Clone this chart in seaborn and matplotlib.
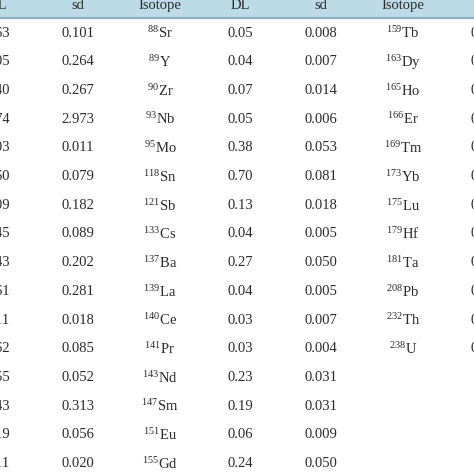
import matplotlib
matplotlib.use("Agg")
import matplotlib.pyplot as plt
import seaborn as sns

# Table data (left block is cropped in the reference)
dl_a = ["0.63", "0.05", "0.40", "5.74", "0.03", "0.60", "0.09", "0.45",
        "0.43", "0.61", "0.11", "0.62", "0.55", "0.43", "0.19", "0.11"]
sd_a = ["0.101", "0.264", "0.267", "2.973", "0.011", "0.079", "0.182", "0.089",
        "0.202", "0.281", "0.018", "0.085", "0.052", "0.313", "0.056", "0.020"]
iso_b = [("88", "Sr"), ("89", "Y"), ("90", "Zr"), ("93", "Nb"), ("95", "Mo"), ("118", "Sn"),
         ("121", "Sb"), ("133", "Cs"), ("137", "Ba"), ("139", "La"), ("140", "Ce"), ("141", "Pr"),
         ("143", "Nd"), ("147", "Sm"), ("151", "Eu"), ("155", "Gd")]
dl_b = ["0.05", "0.04", "0.07", "0.05", "0.38", "0.70", "0.13", "0.04",
        "0.27", "0.04", "0.03", "0.03", "0.23", "0.19", "0.06", "0.24"]
sd_b = ["0.008", "0.007", "0.014", "0.006", "0.053", "0.081", "0.018", "0.005",
        "0.050", "0.005", "0.007", "0.004", "0.031", "0.031", "0.009", "0.050"]
iso_c = [("159", "Tb"), ("163", "Dy"), ("165", "Ho"), ("166", "Er"), ("169", "Tm"), ("173", "Yb"),
         ("175", "Lu"), ("179", "Hf"), ("181", "Ta"), ("208", "Pb"), ("232", "Th"), ("238", "U")]
dl_c = ["0.02", "0.01", "0.01", "0.02", "0.01", "0.03", "0.01", "0.02", "0.01", "0.04", "0.01", "0.01"]
headers = ["DL", "sd", "Isotope", "DL", "sd", "Isotope", "DL"]

sns.set_style("white")
plt.rcParams['font.family'] = ['Liberation Serif', 'DejaVu Serif']
plt.rcParams['mathtext.fontset'] = 'stix'

fig = plt.figure(figsize=(4.74, 4.74), dpi=100)
ax = fig.add_axes([0, 0, 1, 1])
ax.set_xlim(0, 474)
ax.set_ylim(474, 0)
ax.axis('off')

col_x = [-3, 78, 160, 240, 321, 403, 483]
row_y0, row_dy = 33, 28.7
fs = 10.5
color = '#2b2b2b'

# header band
ax.axhspan(0, 18, color='#bcdbe6', zorder=0)
ax.axhline(18, color='#7aa9bc', lw=1.2)
for x, h in zip(col_x, headers):
    ax.text(x, 5, h, ha='center', va='center', fontsize=fs, color=color)

def iso_label(pair):
    return r"$^{\mathregular{%s}}$%s" % pair

columns = [dl_a, sd_a, [iso_label(p) for p in iso_b], dl_b, sd_b,
           [iso_label(p) for p in iso_c], dl_c]
for x, col in zip(col_x, columns):
    for i, val in enumerate(col):
        ax.text(x, row_y0 + i * row_dy, val, ha='center', va='center',
                fontsize=fs, color=color)

fig.savefig("out.png", dpi=100, facecolor='white')
